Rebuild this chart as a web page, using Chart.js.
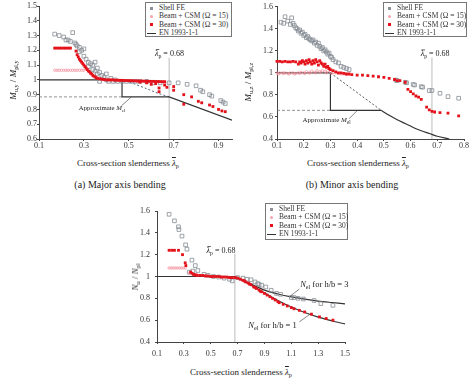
<!DOCTYPE html>
<html>
<head>
<meta charset="utf-8">
<script src="https://cdn.jsdelivr.net/npm/chart.js@4.4.1/dist/chart.umd.min.js"></script>
<style>
  body { margin: 0; background: #fff; }
  #fig { position: relative; width: 474px; height: 386px; overflow: hidden; }
  canvas { position: absolute; }
  .t { position: absolute; font-family: "Liberation Serif", serif; color: #222; white-space: nowrap; line-height: 12px; }
  .t sub { font-size: 70%; vertical-align: -0.25em; line-height: 0; }
  .ov { text-decoration: overline; }
  .rot { transform: translate(-50%, -50%) rotate(-90deg); }
  .leg { position: absolute; border: 1px solid #777; background: #fff; font: 7.5px "Liberation Serif", serif; color: #333; box-sizing: border-box; padding-top: 1px; }
  .leg div { position: relative; height: 8.3px; line-height: 8.3px; padding-left: 13px; white-space: nowrap; }
  .mk { position: absolute; left: 4px; top: 2.5px; width: 3px; height: 3px; }
  .mk.shell { background: #8a9096; }
  .mk.c15 { background: #f5a3ad; border-radius: 50%; }
  .mk.c30 { background: #e3121b; }
  .mk.en { left: 1px; top: 4px; width: 9px; height: 1px; background: #333; }
</style>
</head>
<body>
<div id="fig">
  <canvas id="chartA" width="237" height="152" style="left:0;top:0"></canvas>
  <canvas id="chartB" width="237" height="152" style="left:237px;top:0"></canvas>
  <canvas id="chartC" width="245" height="160" style="left:110px;top:200px"></canvas>

  <div class="t rot" style="left:13px;top:80px;font-size:9px"><i>M</i><sub>u,y</sub> / <i>M</i><sub>pl,y</sub></div>
  <div class="t rot" style="left:248px;top:82px;font-size:9px"><i>M</i><sub>u,z</sub> / <i>M</i><sub>pl,z</sub></div>
  <div class="t rot" style="left:135px;top:277px;font-size:9px"><i>N</i><sub>u</sub> / <i>N</i><sub>pl</sub></div>

  <div class="t" style="left:28px;top:157px;width:200px;text-align:center;font-size:9px">Cross-section slenderness <i class="ov">λ</i><sub>p</sub></div>
  <div class="t" style="left:258px;top:157px;width:200px;text-align:center;font-size:9px">Cross-section slenderness <i class="ov">λ</i><sub>p</sub></div>
  <div class="t" style="left:141px;top:366px;width:200px;text-align:center;font-size:9px">Cross-section slenderness <i class="ov">λ</i><sub>p</sub></div>

  <div class="t" style="left:20px;top:179px;width:200px;text-align:center;font-size:10px">(a) Major axis bending</div>
  <div class="t" style="left:252px;top:179px;width:200px;text-align:center;font-size:10px">(b) Minor axis bending</div>

  <div class="leg" style="left:145px;top:2px;width:87px;height:35px">
    <div><span class="mk shell"></span>Shell FE</div>
    <div><span class="mk c15"></span>Beam + CSM (Ω = 15)</div>
    <div><span class="mk c30"></span>Beam + CSM (Ω = 30)</div>
    <div><span class="mk en"></span>EN 1993-1-1</div>
  </div>
  <div class="leg" style="left:383px;top:2px;width:84px;height:35px">
    <div><span class="mk shell"></span>Shell FE</div>
    <div><span class="mk c15"></span>Beam + CSM (Ω = 15)</div>
    <div><span class="mk c30"></span>Beam + CSM (Ω = 30)</div>
    <div><span class="mk en"></span>EN 1993-1-1</div>
  </div>
  <div class="leg" style="left:265px;top:203px;width:83px;height:37px">
    <div><span class="mk shell"></span>Shell FE</div>
    <div><span class="mk c15"></span>Beam + CSM (Ω = 15)</div>
    <div><span class="mk c30"></span>Beam + CSM (Ω = 30)</div>
    <div><span class="mk en"></span>EN 1993-1-1</div>
  </div>
</div>

<script>
// ---- (a) major axis bending ----
const aTicksX = [0.1, 0.3, 0.5, 0.7, 0.9];
const aTicksY = [0.6, 0.7, 0.8, 0.9, 1.0, 1.1, 1.2, 1.3, 1.4, 1.5];

const aShellX = [0.17,0.19,0.21,0.22,0.23,0.24,0.25,0.26,0.265,0.27,0.28,0.28,0.29,0.30,0.30,0.31,0.32,0.32,0.33,0.34,0.34,0.35,0.35,0.36,0.36,0.37,0.37,0.38,0.39,0.40,0.40,0.41,0.42,0.43,0.44,0.45,0.47,0.49,0.51,0.53,0.55,0.58,0.61,0.64,0.68,0.72,0.76,0.80,0.82,0.83,0.86,0.87,0.91,0.92,0.93];
const aShellY = [1.31,1.30,1.29,1.27,1.27,1.26,1.32,1.25,1.24,1.23,1.22,1.19,1.20,1.21,1.16,1.14,1.12,1.09,1.11,1.10,1.07,1.12,1.06,1.08,1.04,1.05,0.99,1.03,1.02,1.04,1.00,0.99,1.01,0.99,1.00,0.99,0.99,0.99,0.99,0.99,0.99,0.99,0.98,0.98,0.98,0.98,0.97,0.96,0.93,0.92,0.90,0.89,0.86,0.85,0.84];

const aCsm15X = [0.17,0.18,0.19,0.20,0.21,0.22,0.23,0.24,0.25,0.26,0.27,0.28,0.29,0.30,0.38,0.42,0.46,0.50,0.54,0.58,0.62,0.66];
const aCsm15Y = [1.065,1.065,1.065,1.065,1.065,1.065,1.065,1.065,1.065,1.065,1.065,1.065,1.065,1.065,1.0,1.0,0.995,0.995,0.99,0.99,0.985,0.98];

const aCsm30X = [0.17,0.18,0.19,0.20,0.21,0.22,0.23,0.24,
  0.265,0.27,0.275,0.28,0.285,0.29,0.295,0.30,0.305,0.31,0.315,0.32,0.325,0.33,0.335,0.34,0.345,0.35,0.355,0.36,
  0.37,0.38,0.39,0.40,0.41,0.42,0.43,0.44,0.45,0.46,0.47,0.48,0.49,0.50,0.51,0.52,0.53,0.54,0.55,0.56,0.57,0.58,0.59,0.60,0.61,0.62,0.63,0.64,0.65,0.66,
  0.55,0.58,0.60,0.62,0.635,0.635,0.66,0.67,0.70,0.70,0.745,0.745,0.78,0.81,0.825,0.86,0.875,0.90,0.915,0.93];
const aCsm30Y = [1.215,1.215,1.215,1.215,1.215,1.215,1.215,1.215,
  1.195,1.17,1.155,1.14,1.13,1.12,1.11,1.10,1.09,1.08,1.07,1.06,1.055,1.045,1.04,1.03,1.025,1.02,1.015,1.01,
  1.008,1.005,1.003,1.0,1.0,1.0,1.0,0.998,0.998,0.997,0.997,0.996,0.995,0.995,0.994,0.994,0.993,0.993,0.992,0.992,0.991,0.991,0.99,0.99,0.99,0.989,0.989,0.988,0.988,0.988,
  0.985,0.98,0.97,0.975,0.945,0.92,0.965,0.95,0.955,0.93,0.90,0.835,0.885,0.855,0.845,0.83,0.82,0.80,0.79,0.785];

const aEnX = [0.1, 0.47, 0.47, 0.68, 0.96];
const aEnY = [1.0, 1.0, 0.885, 0.885, 0.727];
const aElFlatX = [0.1, 0.47];
const aElFlatY = [0.885, 0.885];
const aElCurveX = [0.47, 0.52, 0.58, 0.63, 0.68];
const aElCurveY = [1.0, 0.975, 0.94, 0.91, 0.885];
const aLamX = [0.68, 0.68];
const aLamY = [0.6, 1.15];

// ---- (b) minor axis bending ----
const bTicksX = [0.1, 0.2, 0.3, 0.4, 0.5, 0.6, 0.7, 0.8];
const bTicksY = [0.4, 0.6, 0.8, 1.0, 1.2, 1.4, 1.6];

const bShellX = [0.115,0.125,0.13,0.14,0.15,0.155,0.16,0.165,0.17,0.175,0.18,0.185,0.19,0.195,0.2,0.205,0.21,0.215,0.22,0.225,0.23,0.235,0.24,0.245,0.25,0.255,0.26,0.265,0.27,0.275,0.28,0.285,0.29,0.295,0.30,0.305,0.31,0.32,0.33,0.34,0.35,0.36,0.37,
  0.545,0.55,0.58,0.585,0.61,0.615,0.64,0.645,0.67,0.68,0.71,0.74,0.78];
const bShellY = [1.46,1.45,1.51,1.47,1.44,1.50,1.45,1.43,1.41,1.40,1.38,1.39,1.36,1.37,1.34,1.35,1.32,1.33,1.31,1.30,1.29,1.30,1.27,1.28,1.25,1.27,1.24,1.22,1.23,1.20,1.21,1.19,1.17,1.18,1.15,1.14,1.12,1.10,1.09,1.06,1.05,1.04,1.03,
  0.935,0.93,0.915,0.91,0.895,0.89,0.875,0.87,0.84,0.84,0.815,0.785,0.77];

const bCsm15X = [0.10,0.11,0.12,0.13,0.14,0.15,0.16,0.17,0.18,0.19,0.20,0.21,0.22,0.23,0.24,0.25,0.26,0.27,0.28,0.29,0.30,0.31,0.32,0.33,0.34,0.35,0.36,
  0.105,0.125,0.145,0.165,0.185,0.205,0.225,0.245,0.265,0.285,0.305];
const bCsm15Y = [1.0,1.0,1.0,1.0,0.995,1.0,1.0,0.995,1.0,1.005,1.0,1.01,1.0,1.015,1.005,1.02,1.01,1.02,1.015,1.02,1.01,1.005,1.0,0.995,0.99,0.99,0.985,
  0.99,0.995,0.99,0.99,0.995,0.995,1.0,1.0,1.005,1.0,0.995];

const bCsm30X = [0.10,0.11,0.12,0.13,0.14,0.15,0.16,0.17,
  0.18,0.185,0.19,0.195,0.2,0.205,0.21,0.215,0.22,0.225,0.23,0.235,0.24,0.245,0.25,0.255,0.26,0.265,0.27,0.275,0.28,0.285,0.29,0.295,0.30,
  0.31,0.32,0.33,0.34,0.35,0.36,0.37,0.38,0.40,0.42,0.44,0.46,0.48,0.50,0.52,0.54,0.55,0.56,0.58,0.59,0.60,0.61,0.62,0.63,0.64,0.66,0.67,0.68,0.69,0.71,0.74,0.78];
const bCsm30Y = [1.105,1.105,1.10,1.105,1.10,1.10,1.105,1.10,
  1.08,1.10,1.09,1.11,1.10,1.08,1.11,1.09,1.12,1.10,1.08,1.11,1.09,1.12,1.10,1.07,1.11,1.09,1.08,1.06,1.08,1.05,1.06,1.04,1.03,
  1.02,1.01,1.00,1.00,0.995,0.99,0.99,0.985,0.98,0.98,0.975,0.97,0.965,0.96,0.95,0.94,0.93,0.93,0.915,0.85,0.83,0.81,0.79,0.78,0.76,0.69,0.665,0.65,0.645,0.64,0.635,0.61];

const bEnX = [0.1, 0.3, 0.3, 0.49];
const bEnY = [1.0, 1.0, 0.66, 0.66];
const bEnCurveX = [0.49, 0.52, 0.55, 0.58, 0.61, 0.64, 0.67, 0.70, 0.745];
const bEnCurveY = [0.66, 0.615, 0.575, 0.54, 0.505, 0.475, 0.45, 0.425, 0.40];
const bElFlatX = [0.1, 0.3];
const bElFlatY = [0.66, 0.66];
const bElSlopeX = [0.3, 0.49];
const bElSlopeY = [1.0, 0.66];
const bLamX = [0.68, 0.68];
const bLamY = [0.4, 1.14];

// ---- (c) compression ----
const cTicksX = [0.1, 0.3, 0.5, 0.7, 0.9, 1.1, 1.3, 1.5];
const cTicksY = [0.4, 0.6, 0.8, 1.0, 1.2, 1.4, 1.6];

const cShellX = [0.19,0.23,0.26,0.263,0.286,0.313,0.323,0.36,0.385,0.404,0.367,0.34,0.45,0.48,0.52,0.56,0.60,0.64,0.66,0.70,0.74,0.77,0.80,0.83,0.85,0.86,0.88,0.91,0.95,0.99,1.02,1.10,1.12,1.15,1.19,1.27,1.32,1.41];
const cShellY = [1.57,1.51,1.455,1.43,1.37,1.29,1.25,1.15,1.10,1.055,1.05,1.04,1.02,1.01,1.0,0.995,0.985,0.975,0.96,0.99,0.985,0.975,0.97,0.95,0.935,0.926,0.92,0.904,0.874,0.845,0.837,0.807,0.807,0.80,0.794,0.78,0.752,0.736];

const cCsm15X = [0.19,0.205,0.22,0.235,0.25,0.265,0.28,0.295,0.31,0.34,0.40,0.46,0.52,0.58,0.64];
const cCsm15Y = [1.078,1.078,1.078,1.078,1.078,1.078,1.078,1.078,1.078,1.03,1.01,1.005,1.0,0.995,0.99];

const cCsm30X = [0.19,0.21,0.23,0.26,0.29,0.31,0.315,0.35,0.36,0.37,0.38,0.39,0.40,0.42,0.44,0.46,0.48,0.50,0.52,0.54,0.56,0.58,0.60,0.62,0.64,0.66,0.68,
  0.70,0.72,0.74,0.75,0.76,0.78,0.79,0.80,0.82,0.83,0.84,0.86,0.87,0.88,0.90,0.92,0.94,0.96,0.98,1.00,1.01,1.04,1.07,1.10,1.12,1.16,1.20,1.25,1.31,1.36,1.41];
const cCsm30Y = [1.24,1.24,1.24,1.24,1.20,1.125,1.10,1.04,1.03,1.02,1.015,1.015,1.01,1.01,1.01,1.005,1.005,1.0,1.0,1.0,1.0,0.995,0.995,0.995,0.99,0.99,0.99,
  0.985,0.975,0.965,0.96,0.95,0.94,0.93,0.925,0.905,0.9,0.89,0.875,0.865,0.86,0.845,0.83,0.815,0.8,0.785,0.77,0.76,0.745,0.73,0.715,0.705,0.69,0.675,0.655,0.63,0.615,0.60];

const cEnFlatX = [0.1, 0.68];
const cEnFlatY = [1.0, 1.0];
const cEnUpperX = [0.68, 0.7, 0.75, 0.8, 0.9, 1.0, 1.1, 1.2, 1.3, 1.4, 1.5];
const cEnUpperY = [1.0, 0.99, 0.96, 0.93, 0.875, 0.84, 0.813, 0.792, 0.775, 0.762, 0.75];
const cEnLowerX = [0.68, 0.7, 0.75, 0.8, 0.9, 1.0, 1.1, 1.2, 1.3, 1.4, 1.5];
const cEnLowerY = [1.0, 0.985, 0.955, 0.92, 0.85, 0.78, 0.72, 0.67, 0.628, 0.595, 0.565];
const cLamX = [0.68, 0.68];
const cLamY = [0.4, 1.21];

Chart.defaults.font.family = '"Liberation Serif", serif';
Chart.defaults.font.size = 8;
Chart.defaults.color = '#333';

const pts = (xs, ys) => xs.map((x, i) => ({ x: x, y: ys[i] }));

function shellSet(xs, ys) {
    return { data: pts(xs, ys), pointStyle: 'rect', pointRadius: 2.6, borderColor: '#858c93',
        backgroundColor: 'rgba(255,255,255,0)', borderWidth: 0.8, order: 3, clip: 6 };
}
function csm15Set(xs, ys) {
    return { data: pts(xs, ys), pointStyle: 'circle', pointRadius: 1.2, borderColor: '#f28e99',
        backgroundColor: 'rgba(255,255,255,0)', borderWidth: 0.7, order: 2, clip: 6 };
}
function csm30Set(xs, ys) {
    return { data: pts(xs, ys), pointStyle: 'rect', pointRadius: 2.0, borderColor: '#e3121b',
        backgroundColor: '#e3121b', borderWidth: 0, order: 1, clip: 6 };
}
function lineSet(xs, ys, color, width, dash, tension) {
    return { data: pts(xs, ys), showLine: true, pointRadius: 0, borderColor: color, borderWidth: width,
        borderDash: dash || [], tension: tension || 0, fill: false, order: 5 };
}

// rich text: parts are [text, style], style 'i' italic, 's' subscript, 'o' overlined italic
function drawRich(ctx, parts, x, y, size) {
    const base = y + size * 0.33;
    ctx.fillStyle = '#222';
    ctx.textBaseline = 'alphabetic';
    ctx.textAlign = 'left';
    parts.forEach(([str, st]) => {
        const sub = st.includes('s');
        const fs = sub ? size * 0.72 : size;
        ctx.font = (st.includes('i') || st.includes('o') ? 'italic ' : '') + fs + 'px "Liberation Serif"';
        ctx.fillText(str, x, sub ? base + size * 0.22 : base);
        const w = ctx.measureText(str).width;
        if (st.includes('o')) ctx.fillRect(x + 0.8, base - size * 0.85, w, 0.7);
        x += w;
    });
}

const notesPlugin = {
    id: 'notes',
    afterDatasetsDraw(chart, args, opts) {
        const ctx = chart.ctx, sx = chart.scales.x, sy = chart.scales.y;
        ctx.save();
        (opts.lines || []).forEach(l => {
            ctx.strokeStyle = '#555';
            ctx.lineWidth = 0.7;
            ctx.beginPath();
            ctx.moveTo(sx.getPixelForValue(l.x[0]), sy.getPixelForValue(l.y[0]));
            ctx.lineTo(sx.getPixelForValue(l.x[1]), sy.getPixelForValue(l.y[1]));
            ctx.stroke();
        });
        (opts.texts || []).forEach(t => {
            drawRich(ctx, t.parts, sx.getPixelForValue(t.x), sy.getPixelForValue(t.y), t.size);
        });
        ctx.restore();
    }
};

const fmt = v => String(Number(v.toFixed(2)));

function panel(id, o) {
    return new Chart(document.getElementById(id), {
        type: 'scatter',
        data: { datasets: o.datasets },
        options: {
            responsive: false,
            animation: false,
            events: [],
            layout: { padding: o.pad, autoPadding: false },
            plugins: { legend: { display: false }, tooltip: { enabled: false }, notes: o.notes },
            scales: {
                x: {
                    type: 'linear', min: o.xMin, max: o.xMax,
                    afterBuildTicks: s => { s.ticks = o.xTicks.map(v => ({ value: v })); },
                    afterFit: s => { s.height = o.xH; },
                    grid: { drawOnChartArea: false, tickLength: 2, color: '#444' },
                    border: { color: '#444', width: 1 },
                    ticks: { padding: o.xPad, autoSkip: false, maxRotation: 0, callback: fmt }
                },
                y: {
                    type: 'linear', min: o.yMin, max: o.yMax,
                    afterBuildTicks: s => { s.ticks = o.yTicks.map(v => ({ value: v })); },
                    afterFit: s => { s.width = o.yW; },
                    grid: { drawOnChartArea: false, tickLength: 2, color: '#444' },
                    border: { color: '#444', width: 1 },
                    ticks: { padding: o.yPad, autoSkip: false, callback: fmt }
                }
            }
        },
        plugins: [notesPlugin]
    });
}

const lam = [['λ', 'o'], ['p', 's'], [' = 0.68', '']];
const approxEl = [['Approximate ', ''], ['M', 'i'], ['el', 's']];

panel('chartA', {
    xMin: 0.1, xMax: 0.96, yMin: 0.6, yMax: 1.5, xTicks: aTicksX, yTicks: aTicksY,
    pad: { top: 6, left: 0, right: 5, bottom: 0 }, xH: 13, yW: 39, xPad: 0, yPad: 0,
    datasets: [
        csm30Set(aCsm30X, aCsm30Y), csm15Set(aCsm15X, aCsm15Y), shellSet(aShellX, aShellY),
        lineSet(aEnX, aEnY, '#333', 1.2),
        lineSet(aElFlatX, aElFlatY, '#777', 0.8, [3, 2]),
        lineSet(aElCurveX, aElCurveY, '#4a5a78', 0.9, [2, 2], 0.3),
        lineSet(aLamX, aLamY, '#bbb', 1)
    ],
    notes: {
        texts: [
            { x: 0.617, y: 1.18, size: 8, parts: lam },
            { x: 0.277, y: 0.811, size: 6.8, parts: approxEl }
        ],
        lines: [{ x: [0.468, 0.513], y: [0.825, 0.887] }]
    }
});

panel('chartB', {
    xMin: 0.1, xMax: 0.8, yMin: 0.4, yMax: 1.6, xTicks: bTicksX, yTicks: bTicksY,
    pad: { top: 6, left: 0, right: 10, bottom: 0 }, xH: 13, yW: 40, xPad: 0, yPad: 2,
    datasets: [
        csm30Set(bCsm30X, bCsm30Y), csm15Set(bCsm15X, bCsm15Y), shellSet(bShellX, bShellY),
        lineSet(bEnX, bEnY, '#333', 1.2),
        lineSet(bEnCurveX, bEnCurveY, '#333', 1.2, [], 0.3),
        lineSet(bElFlatX, bElFlatY, '#777', 0.8, [3, 2]),
        lineSet(bElSlopeX, bElSlopeY, '#444', 0.9, [2, 2]),
        lineSet(bLamX, bLamY, '#bbb', 1)
    ],
    notes: {
        texts: [
            { x: 0.638, y: 1.174, size: 8, parts: lam },
            { x: 0.195, y: 0.574, size: 7, parts: approxEl }
        ],
        lines: [{ x: [0.37, 0.40], y: [0.585, 0.657] }]
    }
});

panel('chartC', {
    xMin: 0.1, xMax: 1.5, yMin: 0.4, yMax: 1.6, xTicks: cTicksX, yTicks: cTicksY,
    pad: { top: 11, left: 0, right: 9, bottom: 0 }, xH: 18, yW: 47, xPad: 5, yPad: 5,
    datasets: [
        csm30Set(cCsm30X, cCsm30Y), csm15Set(cCsm15X, cCsm15Y), shellSet(cShellX, cShellY),
        lineSet(cEnFlatX, cEnFlatY, '#333', 1.2),
        lineSet(cEnUpperX, cEnUpperY, '#333', 1.2, [], 0.3),
        lineSet(cEnLowerX, cEnLowerY, '#333', 1.2, [], 0.3),
        lineSet(cLamX, cLamY, '#bbb', 1)
    ],
    notes: {
        texts: [
            { x: 0.469, y: 1.24, size: 8, parts: lam },
            { x: 1.166, y: 0.926, size: 8.5, parts: [['N', 'i'], ['el', 's'], [' for h/b = 3', '']] },
            { x: 0.78, y: 0.553, size: 8.5, parts: [['N', 'i'], ['el', 's'], [' for h/b = 1', '']] }
        ],
        lines: [
            { x: [1.16, 1.09], y: [0.885, 0.818] },
            { x: [1.16, 1.24], y: [0.585, 0.655] }
        ]
    }
});
</script>
</body>
</html>
